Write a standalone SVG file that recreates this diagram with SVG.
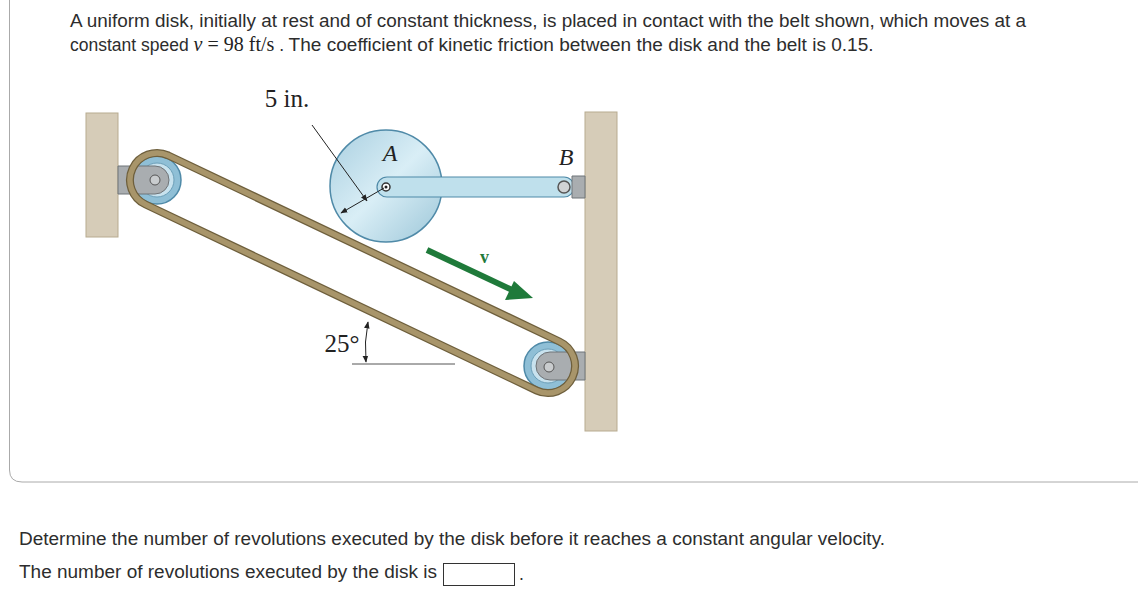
<svg xmlns="http://www.w3.org/2000/svg" width="1138" height="606" viewBox="0 0 1138 606">
<defs>
<style>
.t{font-family:"Liberation Sans",Arial,sans-serif;font-size:17.5px;fill:#2d2d2d}
.s{font-family:"Liberation Serif","Times New Roman",serif;fill:#222}
.wall{fill:#d6ccb8;stroke:#b8ab90;stroke-width:1}
.br{fill:#a9adb0;stroke:#6f7478;stroke-width:1}
.thin{stroke:#222;stroke-width:1;fill:none}
</style>
<linearGradient id="dg" x1="0" y1="0" x2="1" y2="1"><stop offset="0" stop-color="#a9cfe0"/><stop offset="0.5" stop-color="#d9eef6"/><stop offset="1" stop-color="#9cc6d8"/></linearGradient>
<marker id="ah" viewBox="0 0 10 10" refX="9" refY="5" markerWidth="7" markerHeight="7" orient="auto-start-reverse"><path d="M0,1 L10,5 L0,9 z" fill="#222"/></marker>
<g id="pul"><circle r="24" fill="#8fbfd6" stroke="#4f8aa8" stroke-width="1.5"/><circle r="17" fill="#c8e2ee" stroke="#6c9fb8"/><circle r="10" fill="#e6f2f7" stroke="#6c9fb8"/></g>
</defs>
<rect width="1138" height="606" fill="#fff"/>
<path d="M9.5,0 V470 Q9.5,482 22,482 H1138" fill="none" stroke="#aaa" stroke-width="1"/>
<text class="t" x="70" y="27" textLength="956" lengthAdjust="spacingAndGlyphs">A uniform disk, initially at rest and of constant thickness, is placed in contact with the belt shown, which moves at a</text>
<text class="t" x="70" y="51">constant speed <tspan class="s" font-style="italic" font-size="20">v</tspan><tspan class="s" font-size="20"> = 98 ft/s</tspan> . <tspan textLength="585" lengthAdjust="spacingAndGlyphs">The coefficient of kinetic friction between the disk and the belt is 0.15.</tspan></text>
<g id="walls"><rect class="wall" x="86" y="113" width="32" height="124"/><rect class="wall" x="585" y="112" width="32" height="319"/></g>
<g id="pulleyL"><use href="#pul" x="157" y="180"/><path class="br" d="M118,166 H155 A14,14 0 0 1 155,194 H118 Z"/><circle cx="155" cy="180" r="5" fill="#c9ccce" stroke="#555"/></g>
<g id="pulleyR"><use href="#pul" x="548" y="366"/><path class="br" d="M585,352 H550 A14,14 0 0 0 550,380 H585 Z"/><circle cx="549" cy="367" r="5" fill="#c9ccce" stroke="#555"/></g>
<g id="belt"><path d="M168.4,155.5 L559.4,341.5 A27,27 0 0 1 536.6,390.5 L145.6,204.5 A27,27 0 0 1 168.4,155.5 Z" fill="none" stroke="#6e5f3c" stroke-width="8"/><path d="M168.4,155.5 L559.4,341.5 A27,27 0 0 1 536.6,390.5 L145.6,204.5 A27,27 0 0 1 168.4,155.5 Z" fill="none" stroke="#a8956a" stroke-width="5.5"/></g>
<g id="diskA"><circle cx="386" cy="186" r="56" fill="url(#dg)" stroke="#4f8aa8" stroke-width="1.5"/><text class="s" x="390" y="161" font-size="24" font-style="italic" text-anchor="middle">A</text></g>
<g id="arm"><rect x="377" y="177" width="197" height="20" rx="10" fill="#bfe0ec" stroke="#4f8aa8" stroke-width="1.2"/><path class="br" d="M585,176 H572 V198 H585 Z"/><circle cx="564" cy="187" r="6" fill="#d0d3d5" stroke="#555" stroke-width="1.5"/><circle cx="386" cy="187" r="4" fill="#fff" stroke="#333" stroke-width="1.5"/><circle cx="386" cy="187" r="1.5" fill="#222"/><text class="s" x="566" y="165" font-size="24" font-style="italic" text-anchor="middle">B</text></g>
<g id="connectors">
<line class="thin" x1="312" y1="125" x2="367" y2="201" marker-end="url(#ah)"/>
<line class="thin" x1="384" y1="188" x2="341" y2="213" marker-end="url(#ah)"/>
<path d="M427,250 L512,290" stroke="#1f7a3a" stroke-width="6" fill="none"/><path d="M533,298 L505,300 L514,281 z" fill="#1f7a3a"/>
<line x1="352" y1="364" x2="455" y2="364" stroke="#555" stroke-width="1"/>
<path d="M368,322 Q364,342 366,362" class="thin" marker-start="url(#ah)" marker-end="url(#ah)"/>
</g>
<text class="s" x="287" y="107" font-size="25" text-anchor="middle">5 in.</text>
<text class="s" x="480" y="263" font-size="18" font-weight="bold" style="fill:#1f7a3a">v</text>
<text class="s" x="342" y="352" font-size="25" text-anchor="middle">25°</text>
<text class="t" x="19" y="545" textLength="866" lengthAdjust="spacingAndGlyphs">Determine the number of revolutions executed by the disk before it reaches a constant angular velocity.</text>
<text class="t" x="19" y="578" textLength="418" lengthAdjust="spacingAndGlyphs">The number of revolutions executed by the disk is</text>
<rect x="443.5" y="563.5" width="71" height="22" fill="#fff" stroke="#333"/>
<text class="t" x="519" y="580">.</text>
</svg>
